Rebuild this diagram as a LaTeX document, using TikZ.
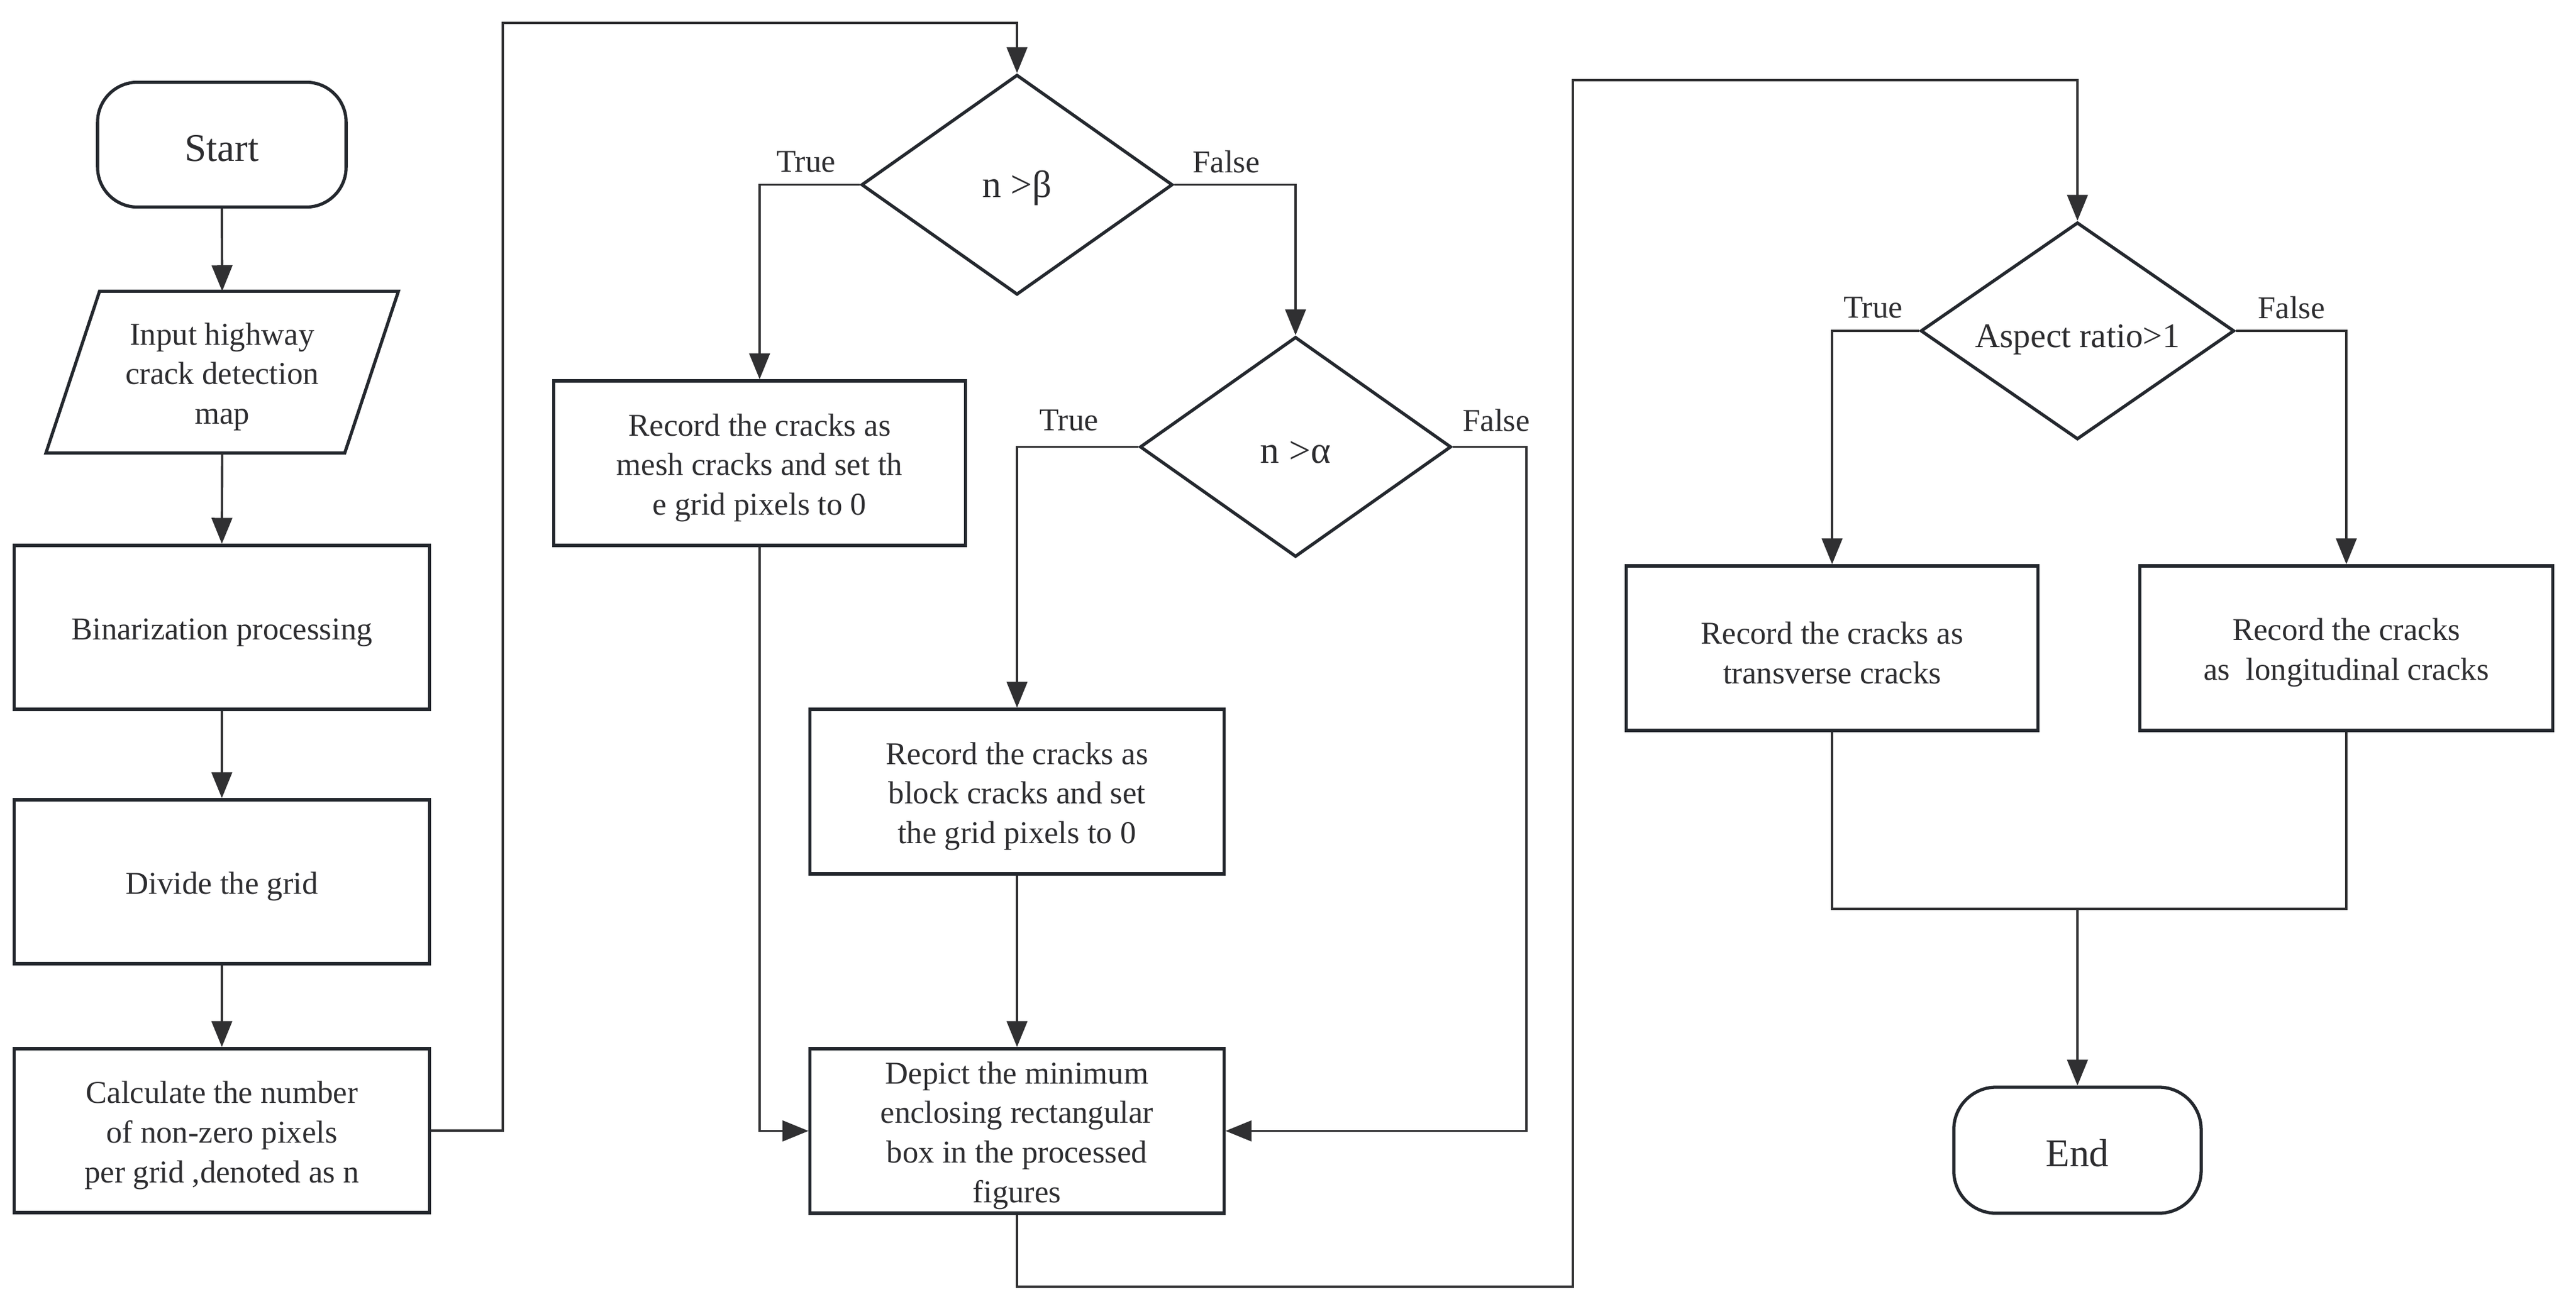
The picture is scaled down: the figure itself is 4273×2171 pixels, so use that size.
\documentclass[tikz,border=0pt]{standalone}
\usepackage{fontspec}
\setmainfont{Liberation Serif}
\usetikzlibrary{shapes.geometric,arrows.meta}
\definecolor{ink}{RGB}{36,40,46}
\definecolor{lnk}{RGB}{48,48,50}
\definecolor{txt}{RGB}{45,45,48}
\newcommand{\firstln}{\rule{0pt}{14.8pt}}
\begin{document}
\begin{tikzpicture}[x=0.01cm,y=-0.01cm,
  every node/.style={font=\fontsize{15}{18.7}\selectfont, text=txt},
  procbox/.style={draw=ink, line width=1.5pt, rectangle, minimum width=6.85cm, minimum height=2.73cm, inner sep=0pt, align=center},
  term/.style={draw=ink, line width=1.5pt, rectangle, rounded corners=0.66cm, minimum width=4.12cm, minimum height=2.07cm, inner sep=0pt, font=\fontsize{18.5}{22}\selectfont, execute at begin node={\rule{0pt}{15.6pt}}},
  decis/.style={draw=ink, line width=1.5pt, diamond, aspect=2, minimum width=5.16cm, minimum height=3.65cm, inner sep=0pt, align=center},
  conn/.style={draw=lnk, line width=1.1pt, -{Triangle[length=4.3mm,width=3.4mm]}},
  plain/.style={draw=lnk, line width=1.1pt},
  lbl/.style={inner sep=0pt}
]
\useasboundingbox (0,0) rectangle (4273,2171);

% column 1
\node[term] (start) at (368,240) {Start};
\node[inner sep=0pt, minimum width=4.94cm, minimum height=2.67cm, align=center] (inp) at (368.5,617.5) {\firstln Input highway\\crack detection\\map};
\draw[draw=ink, line width=1.5pt, line join=miter]
  ([xshift=0.445cm]inp.north west) -- ([xshift=0.445cm]inp.north east) --
  ([xshift=-0.445cm]inp.south east) -- ([xshift=-0.445cm]inp.south west) -- cycle;
\node[procbox, minimum width=6.88cm, minimum height=2.72cm] (bin) at (368,1041) {\firstln Binarization processing};
\node[procbox, minimum width=6.88cm, minimum height=2.72cm] (div) at (368,1463) {\firstln Divide the grid};
\node[procbox, minimum width=6.88cm, minimum height=2.72cm] (calc) at (368,1876) {\firstln Calculate the number\\of non-zero pixels\\per grid ,denoted as n};

% column 2
\node[decis, execute at begin node={\rule{0pt}{15.6pt}}] (d1) at (1687,306.5) {\fontsize{18}{22}\selectfont n >β};
\node[procbox, minimum width=6.82cm] (mesh) at (1260,768.5) {\firstln Record the cracks as\\mesh cracks and set th\\e grid pixels to 0};
\node[decis, execute at begin node={\rule{0pt}{15.6pt}}] (d2) at (2149,741.5) {\fontsize{18}{22}\selectfont n >α};
\node[procbox, minimum width=6.86cm] (block) at (1687,1313.5) {\firstln Record the cracks as\\block cracks and set\\ the grid pixels to 0};
\node[procbox, minimum width=6.86cm] (dep) at (1687,1876.5) {\firstln Depict the minimum\\enclosing rectangular\\box in the processed\\figures};

% column 3
\node[decis, minimum width=5.2cm, minimum height=3.6cm, execute at begin node={\rule{0pt}{19pt}}] (d3) at (3446,549) {\fontsize{16.3}{20}\selectfont Aspect ratio>1};
\node[procbox, minimum width=6.82cm] (lbox) at (3039,1075.5) {\firstln Record the cracks as\\ transverse cracks};
\node[procbox, minimum width=6.84cm] (rbox) at (3892,1075.5) {\firstln Record the cracks\\as\ \ longitudinal cracks};
\node[term, rounded corners=0.7cm, minimum width=4.1cm, minimum height=2.09cm] (endn) at (3446,1908.5) {End};

% labels
\node[lbl] (t1) at (1337,268) {True};
\node[lbl] (f1) at (2034,268) {False};
\node[lbl] (t2) at (1773,697) {True};
\node[lbl] (f2) at (2482,697) {False};
\node[lbl] (t3) at (3107,510) {True};
\node[lbl] (f3) at (3801,510) {False};

% helper coordinates
\coordinate (k1) at (834,38);
\coordinate (k2) at (2532,741.5);
\coordinate (k3) at (2609,2135);
\coordinate (k4) at (2609,133);
\coordinate (j)  at (3446,1508);

% connectors
\draw[conn] (start.south) -- (inp.north);
\draw[conn] (inp.south) -- (bin.north);
\draw[conn] (bin.south) -- (div.north);
\draw[conn] (div.south) -- (calc.north);
\draw[conn] (calc.east) -| (k1) -| (d1.north);
\draw[conn] (d1.west) -| (mesh.north);
\draw[conn] (d1.east) -| (d2.north);
\draw[conn] (d2.west) -| (block.north);
\draw[conn] (d2.east) -- (k2) |- (dep.east);
\draw[conn] (mesh.south) |- (dep.west);
\draw[conn] (block.south) -- (dep.north);
\draw[conn] (dep.south) |- (k3) -- (k4) -| (d3.north);
\draw[conn] (d3.west) -| (lbox.north);
\draw[conn] (d3.east) -| (rbox.north);
\draw[plain] (lbox.south) |- (j) -| (rbox.south);
\draw[conn] (j) -- (endn.north);
\end{tikzpicture}
\end{document}
